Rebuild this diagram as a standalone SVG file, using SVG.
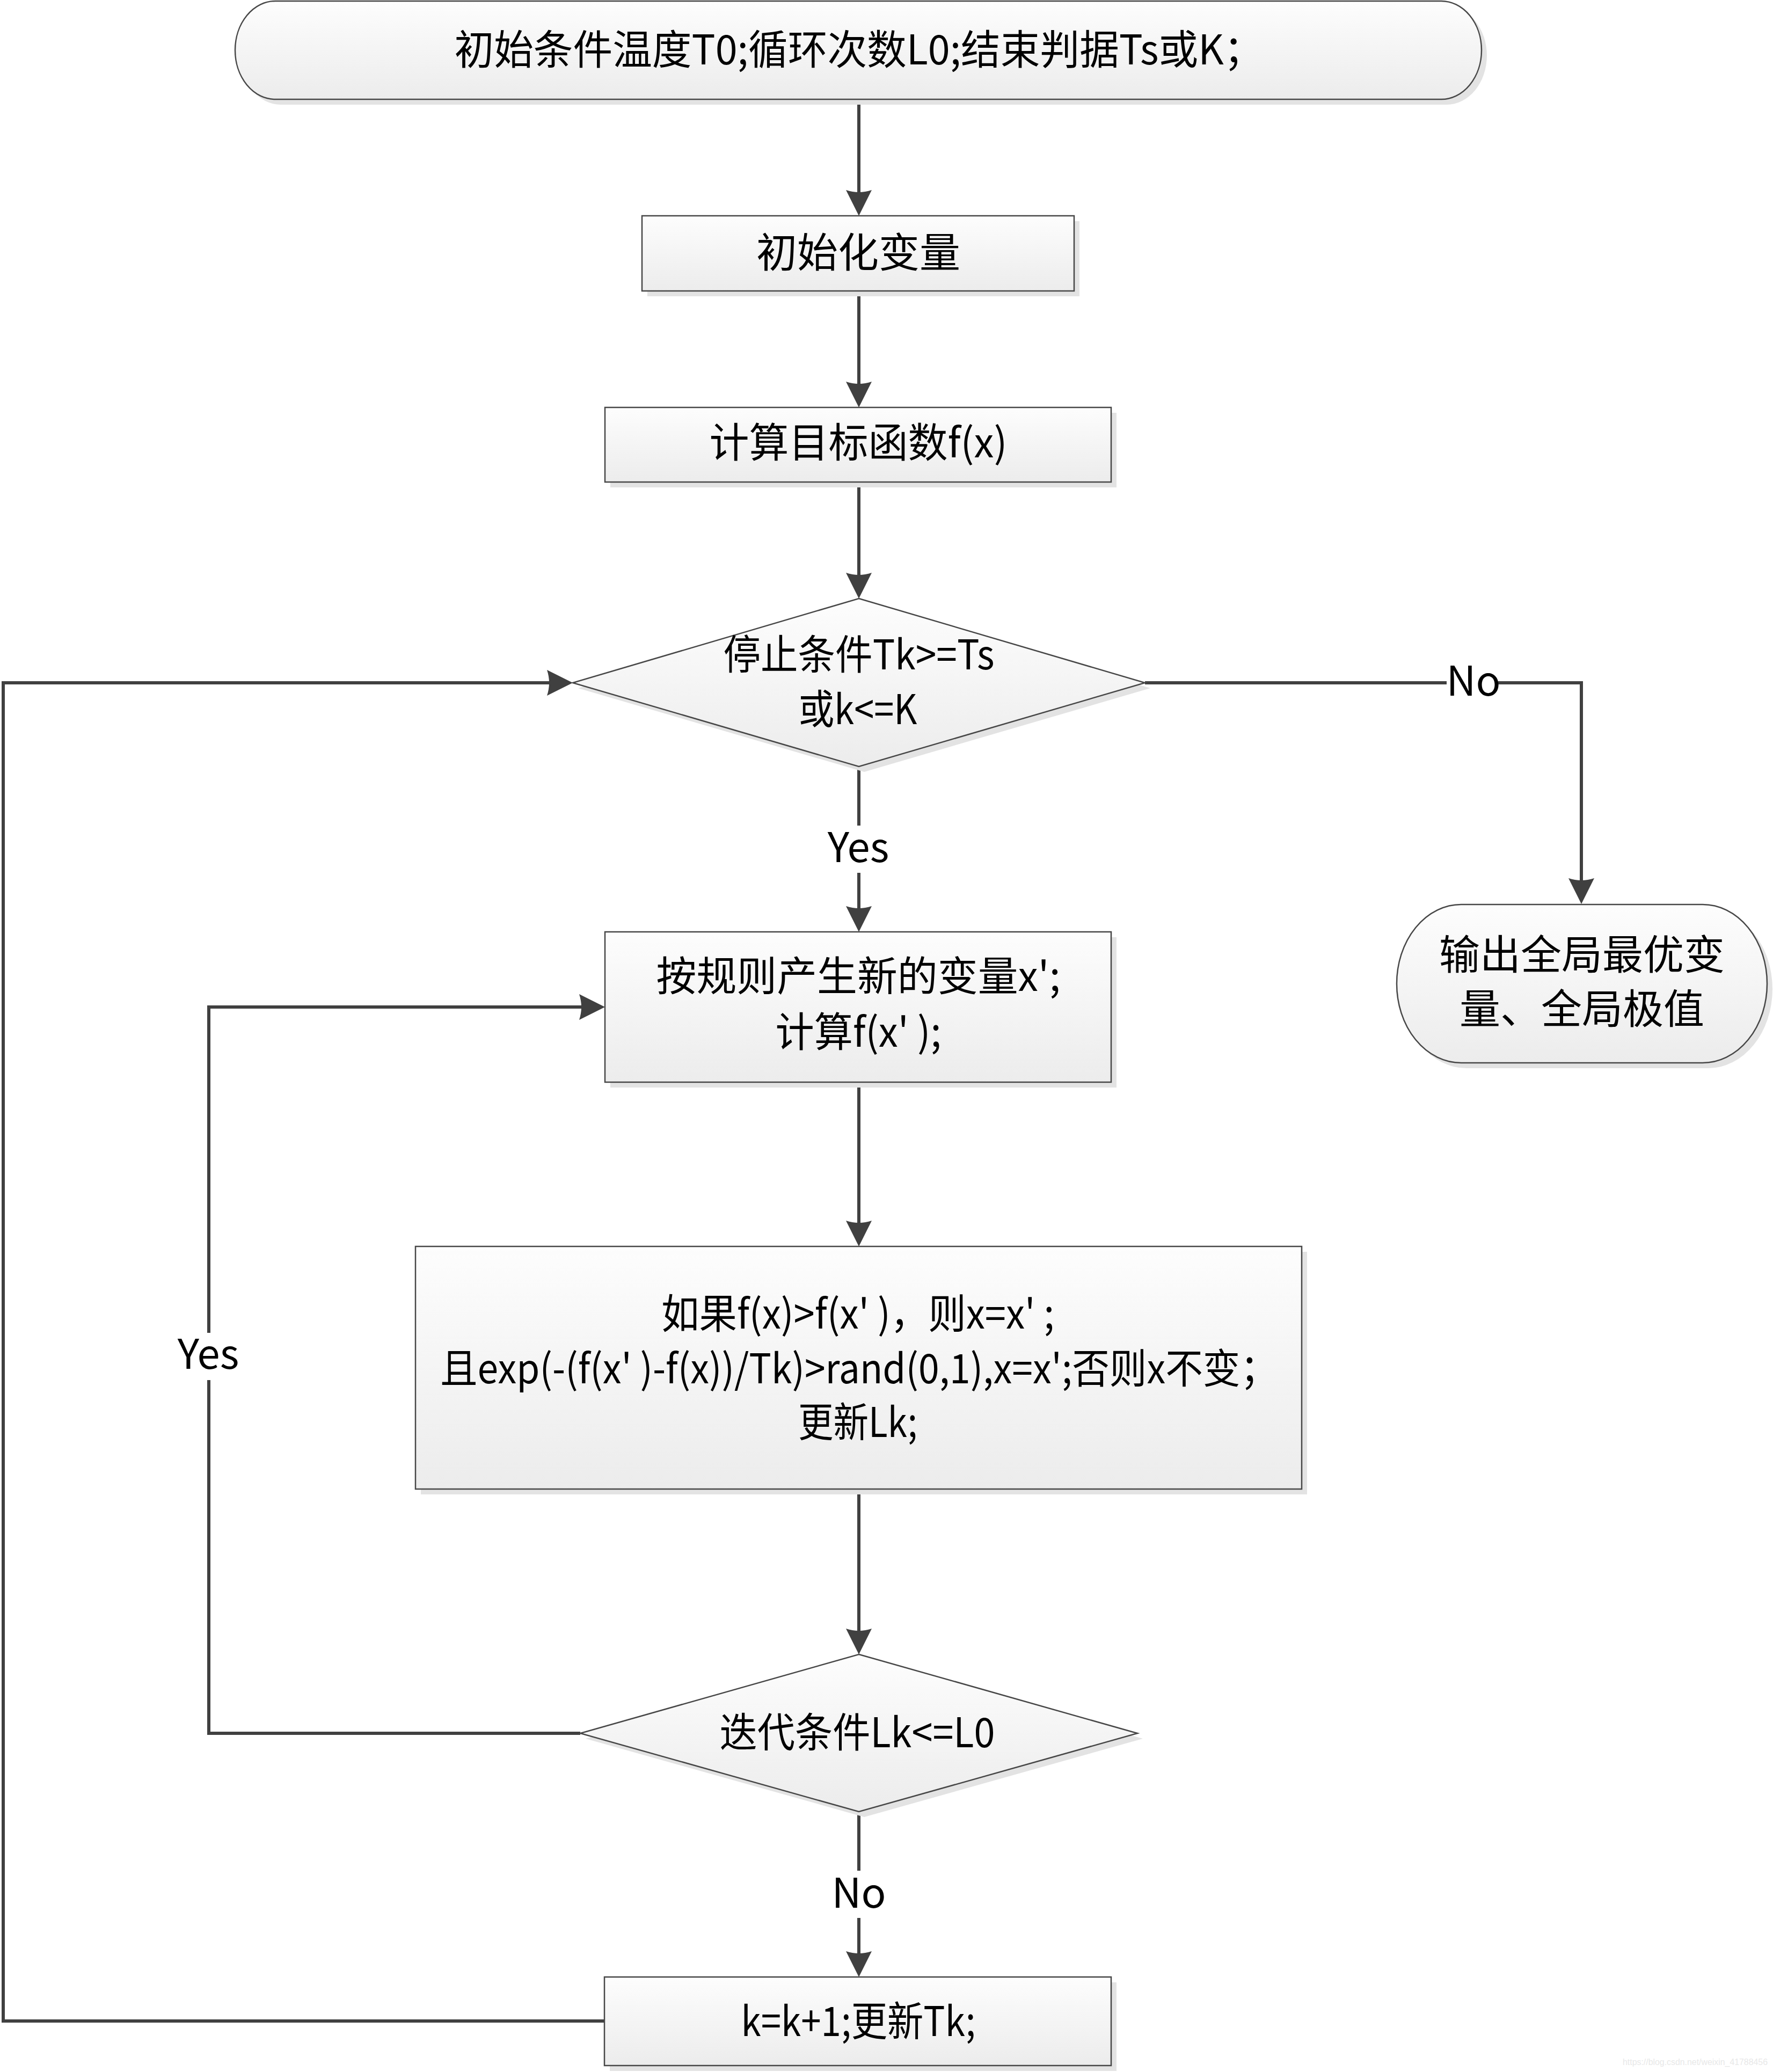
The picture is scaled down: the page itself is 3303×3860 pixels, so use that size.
<svg xmlns="http://www.w3.org/2000/svg" width="3303" height="3860" viewBox="0 0 3303 3860">
<style>
.shape{fill:url(#g);stroke:#474747;stroke-width:2.5}
.shadow{fill:#e3e3e3}
.t{font-family:"Noto Sans CJK SC","Liberation Sans",sans-serif;font-size:76px;fill:#000;text-anchor:middle}
.lbl{font-family:"Noto Sans CJK SC","Liberation Sans",sans-serif;font-size:76px;fill:#000;text-anchor:middle}
.c{fill:none;stroke:#404040;stroke-width:6;stroke-linejoin:miter;marker-end:url(#arr)}
.wm{font-family:"Liberation Sans",sans-serif;font-size:16px;fill:#e8e8e8}
</style>
<defs>
<linearGradient id="g" x1="0" y1="0" x2="0" y2="1">
<stop offset="0" stop-color="#fdfdfd"/>
<stop offset="1" stop-color="#ececec"/>
</linearGradient>
<marker id="arr" markerUnits="userSpaceOnUse" markerWidth="52" markerHeight="52" viewBox="-10 -26 52 52" refX="0" refY="0" orient="auto">
<path d="M40,0 L-8,-24 Q0,0 -8,24 Z" fill="#404040"/>
</marker>
</defs>
<rect width="3303" height="3860" fill="#fff"/>

<g id="connectors">
<path class="c" d="M1600,185 V362"/>
<path class="c" d="M1600,542 V719"/>
<path class="c" d="M1600,898 V1075"/>
<path class="c" d="M2133,1272 H2946 V1644"/>
<path class="c" d="M1600,1428 V1696"/>
<path class="c" d="M1600,2016 V2282"/>
<path class="c" d="M1600,2774 V3042"/>
<path class="c" d="M1081,3229 H389 V1876 H1087"/>
<path class="c" d="M1600,3375 V3643"/>
<path class="c" d="M1126,3765 H6 V1272 H1027"/>
</g>

<g id="labels">
<rect x="2695" y="1240" width="96" height="62" fill="#fff"/>
<text class="lbl" x="2745" y="1296">No</text>
<rect x="1540" y="1538" width="120" height="88" fill="#fff"/>
<text class="lbl" x="1599" y="1606">Yes</text>
<rect x="328" y="2483" width="120" height="88" fill="#fff"/>
<text class="lbl" x="388" y="2550">Yes</text>
<rect x="1550" y="3485" width="100" height="88" fill="#fff"/>
<text class="lbl" x="1600" y="3554">No</text>
</g>

<g id="start">
<path class="shadow" d="M523,12 H2695 A75,91.5 0 0 1 2695,195 H523 A75,91.5 0 0 1 523,12 Z"/>
<path class="shape" d="M513,2 H2685 A75,91.5 0 0 1 2685,185 H513 A75,91.5 0 0 1 513,2 Z"/>
<text class="t" x="1600" y="120" textLength="1507" lengthAdjust="spacingAndGlyphs">初始条件温度T0;循环次数L0;结束判据Ts或K；</text>
</g>

<g id="init">
<rect class="shadow" x="1206" y="412" width="805" height="140"/>
<rect class="shape" x="1196" y="402" width="805" height="140"/>
<text class="t" x="1599" y="498">初始化变量</text>
</g>

<g id="calc">
<rect class="shadow" x="1137" y="769" width="943" height="139"/>
<rect class="shape" x="1127" y="759" width="943" height="139"/>
<text class="t" x="1599" y="852" textLength="555" lengthAdjust="spacingAndGlyphs">计算目标函数f(x)</text>
</g>

<g id="stop">
<path class="shadow" d="M1610,1125 L2143,1282 L1610,1438 L1077,1282 Z"/>
<path class="shape" d="M1600,1115 L2133,1272 L1600,1428 L1067,1272 Z"/>
<text class="t" x="1600" y="1247" textLength="505" lengthAdjust="spacingAndGlyphs">停止条件Tk&gt;=Ts</text>
<text class="t" x="1598" y="1349" textLength="221" lengthAdjust="spacingAndGlyphs">或k&lt;=K</text>
</g>

<g id="output">
<path class="shadow" d="M2732,1695 H3182 A120,147.5 0 0 1 3182,1990 H2732 A120,147.5 0 0 1 2732,1695 Z"/>
<path class="shape" d="M2722,1685 H3172 A120,147.5 0 0 1 3172,1980 H2722 A120,147.5 0 0 1 2722,1685 Z"/>
<text class="t" x="2947" y="1806">输出全局最优变</text>
<text class="t" x="2947" y="1907">量、全局极值</text>
</g>

<g id="newvar">
<rect class="shadow" x="1137" y="1746" width="943" height="280"/>
<rect class="shape" x="1127" y="1736" width="943" height="280"/>
<text class="t" x="1599" y="1846" textLength="753" lengthAdjust="spacingAndGlyphs">按规则产生新的变量x';</text>
<text class="t" x="1599" y="1950" textLength="309" lengthAdjust="spacingAndGlyphs">计算f(x' );</text>
</g>

<g id="accept">
<rect class="shadow" x="784" y="2332" width="1651" height="452"/>
<rect class="shape" x="774" y="2322" width="1651" height="452"/>
<text class="t" x="1598" y="2475" textLength="732" lengthAdjust="spacingAndGlyphs">如果f(x)&gt;f(x' )，则x=x' ;</text>
<text class="t" x="1600" y="2577" textLength="1560" lengthAdjust="spacingAndGlyphs">且exp(-(f(x' )-f(x))/Tk)&gt;rand(0,1),x=x';否则x不变；</text>
<text class="t" x="1598" y="2677" textLength="222" lengthAdjust="spacingAndGlyphs">更新Lk;</text>
</g>

<g id="iter">
<path class="shadow" d="M1610,3092 L2129,3239 L1610,3385 L1091,3239 Z"/>
<path class="shape" d="M1600,3082 L2119,3229 L1600,3375 L1081,3229 Z"/>
<text class="t" x="1597" y="3255" textLength="513" lengthAdjust="spacingAndGlyphs">迭代条件Lk&lt;=L0</text>
</g>

<g id="update">
<rect class="shadow" x="1136" y="3693" width="944" height="165"/>
<rect class="shape" x="1126" y="3683" width="944" height="165"/>
<text class="t" x="1599" y="3793" textLength="437" lengthAdjust="spacingAndGlyphs">k=k+1;更新Tk;</text>
</g>

<text class="wm" x="3023" y="3847" textLength="270" lengthAdjust="spacingAndGlyphs">https://blog.csdn.net/weixin_41788456</text>
</svg>
